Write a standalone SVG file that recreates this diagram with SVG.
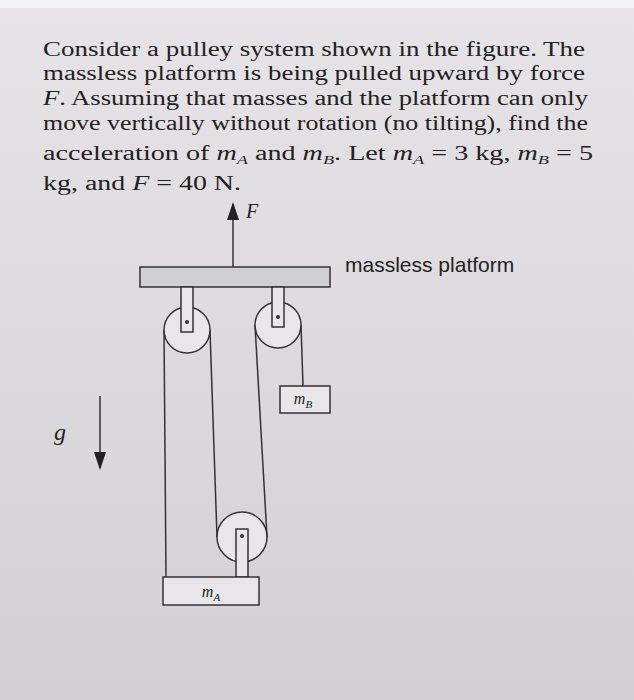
<svg xmlns="http://www.w3.org/2000/svg" width="634" height="700" viewBox="0 0 634 700">
<defs>
<linearGradient id="bg" x1="0" y1="0" x2="0" y2="1"><stop offset="0" stop-color="#e6e4e6"/><stop offset="1" stop-color="#d2d0d3"/></linearGradient>
<marker id="ah" markerWidth="18" markerHeight="12" refX="16" refY="6" orient="auto" markerUnits="userSpaceOnUse" viewBox="0 0 18 12"><path d="M0,0 L18,6 L0,12 Z" fill="#222"/></marker>
<style>
.t{font-family:"Liberation Serif",serif;font-size:20px;fill:#222}
.s{stroke:#333;stroke-width:1.5;fill:none}
.b{stroke:#333;stroke-width:1.5;fill:#e8e6e8}
</style>
</defs>
<rect width="634" height="700" fill="url(#bg)"/>
<rect x="0" y="0" width="634" height="8" fill="#f4f4f6"/>
<g class="t">
<text x="43" y="56" textLength="542" lengthAdjust="spacingAndGlyphs">Consider a pulley system shown in the figure. The</text>
<text x="43" y="80" textLength="542" lengthAdjust="spacingAndGlyphs">massless platform is being pulled upward by force</text>
<text x="43" y="105" textLength="545" lengthAdjust="spacingAndGlyphs"><tspan font-style="italic">F</tspan>. Assuming that masses and the platform can only</text>
<text x="43" y="130" textLength="545" lengthAdjust="spacingAndGlyphs">move vertically without rotation (no tilting), find the</text>
<text x="43" y="160" textLength="550" lengthAdjust="spacingAndGlyphs">acceleration of <tspan font-style="italic">m<tspan font-size="13" dy="4">A</tspan></tspan><tspan dy="-4"> and </tspan><tspan font-style="italic">m<tspan font-size="13" dy="4">B</tspan></tspan><tspan dy="-4">. Let </tspan><tspan font-style="italic">m<tspan font-size="13" dy="4">A</tspan></tspan><tspan dy="-4"> = 3 kg, </tspan><tspan font-style="italic">m<tspan font-size="13" dy="4">B</tspan></tspan><tspan dy="-4"> = 5</tspan></text>
<text x="43" y="190" textLength="198" lengthAdjust="spacingAndGlyphs">kg, and <tspan font-style="italic">F</tspan> = 40 N.</text>
</g>
<g id="force"><line class="s" x1="233" y1="270" x2="233" y2="204" marker-end="url(#ah)"/><text class="t" x="246" y="218" font-style="italic" font-size="22">F</text></g>
<g id="connectors" class="s">
<line x1="164" y1="330" x2="166" y2="577"/>
<line x1="210" y1="330" x2="217" y2="537"/>
<line x1="267" y1="537" x2="255" y2="325"/>
<line x1="301" y1="325" x2="303" y2="386"/>
</g>
<g id="platform"><rect x="140" y="267" width="190" height="20" fill="#d0d0d2" stroke="#333" stroke-width="1.5"/><text x="345" y="272" font-family="Liberation Sans,sans-serif" font-size="21" fill="#222">massless platform</text></g>
<g id="pulleyL"><circle class="b" cx="187" cy="330" r="23"/><rect class="b" x="181" y="287" width="12" height="45"/><circle cx="187" cy="322" r="2" fill="#333"/></g>
<g id="pulleyR"><circle class="b" cx="278" cy="325" r="23"/><rect class="b" x="272" y="287" width="12" height="40"/><circle cx="278" cy="317" r="2" fill="#333"/></g>
<g id="pulleyBot"><circle class="b" cx="242" cy="537" r="25"/><rect class="b" x="236" y="529" width="12" height="48"/><circle cx="242" cy="536" r="2" fill="#333"/></g>
<g id="mA"><rect class="b" x="163" y="577" width="96" height="28"/><text x="211" y="597" text-anchor="middle" font-family="Liberation Serif,serif" font-style="italic" font-size="16" fill="#222">m<tspan font-size="11" dy="4">A</tspan></text></g>
<g id="mB"><rect class="b" x="280" y="386" width="50" height="27"/><text x="303" y="404" text-anchor="middle" font-family="Liberation Serif,serif" font-style="italic" font-size="16" fill="#222">m<tspan font-size="11" dy="4">B</tspan></text></g>
<g id="gravity"><text x="54" y="440" font-family="Liberation Serif,serif" font-style="italic" font-size="24" fill="#222">g</text><line class="s" x1="100" y1="396" x2="100" y2="468" marker-end="url(#ah)"/></g>
</svg>
